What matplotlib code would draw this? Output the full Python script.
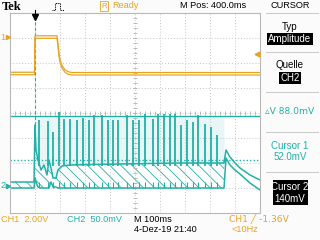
import matplotlib
matplotlib.use("Agg")
import matplotlib.pyplot as plt
import numpy as np
from matplotlib.patches import Rectangle

# --- data (time in ms, CH1 in V, CH2 in mV) ---
ch1_t = [-100, -2, 0, 88, 92, 96, 100, 108, 120, 132, 148, 900]
ch1_v = [-2.92, -2.92, 0.0, 0.0, -0.64, -1.44, -1.92, -2.4, -2.72, -2.88, -2.94, -2.94]

ch2_t = [-100, -4, 0, 4, 12, 24, 36, 48, 56, 64, 72, 84, 92, 108, 140, 340, 580, 756,
         764, 780, 800, 820, 860, 900]
ch2_hi = [8, 8, 122, 72, 52, 32, 42, 22, 52, 36, 16, 16, 32, 40, 42, 44, 46, 46,
          72, 58, 46, 36, 22, 12]
ch2_lo = [-4, -4, 16, 8, -2, -4, -4, -4, -4, 8, -2, -2, -4, -4, -4, -4, -4, -4,
          56, 42, 32, 24, 6, -8]

spike_t = [16, 52, 72, 96, 116, 140, 168, 192, 216, 236, 268, 292, 312, 332, 368, 392,
           416, 440, 472, 492, 516, 540, 560, 584, 608, 632, 652, 680, 704, 728]
spike_v = [132, 130, 108, 148, 134, 134, 132, 136, 132, 142, 142, 132, 132, 132, 142, 132,
           132, 144, 134, 144, 144, 144, 144, 122, 132, 128, 142, 124, 118, 102]

cursor1 = 52.0
cursor2 = 140.0
ch1_pos = 7.04   # divisions from bottom
ch2_pos = 1.08

TEAL = "#22b0a8"
ORANGE = "#e8a420"
PALE = "#e8f7f6"
FS = 6.6

def d1(v):
    return ch1_pos + np.asarray(v, float) / 2.0

def d2(v):
    return ch2_pos + np.asarray(v, float) / 50.0

plt.rcParams["font.family"] = ["Liberation Sans", "DejaVu Sans"]
plt.rcParams["hatch.linewidth"] = 0.6
plt.rcParams["hatch.color"] = TEAL

fig = plt.figure(figsize=(3.2, 2.4), dpi=100)
fig.patch.set_facecolor("#fbfbfb")

# --- graticule ---
ax = fig.add_axes([10 / 320, 27 / 240, 250 / 320, 200 / 240])
ax.set_xlim(-100, 900)
ax.set_ylim(0, 8)
ax.set_facecolor("white")
for s in ax.spines.values():
    s.set_color("#b8b8b8")
    s.set_linewidth(0.8)
ax.set_xticks(np.arange(-100, 901, 100))
ax.set_yticks(np.arange(0, 9, 1))
ax.tick_params(length=0, labelbottom=False, labelleft=False)
ax.grid(True, color="#c4c4c4", linestyle=(0, (1, 2)), linewidth=0.7)
ax.plot(np.arange(-100, 901, 20), np.full(51, 4.0), "|", color="#b0b0b0", ms=3, mew=0.6)
ax.plot(np.full(41, 400.0), np.arange(0, 8.01, 0.2), "_", color="#b0b0b0", ms=3, mew=0.6)

t2 = np.array(ch2_t)
hi = d2(ch2_hi)
lo = d2(ch2_lo)

# pale persistence behind the spikes
mask = (t2 >= 0) & (t2 <= 756)
ax.fill_between(t2, hi, d2(cursor2), where=mask, color=PALE, lw=0)

# hatched envelope
ax.fill_between(t2, lo, hi, where=(t2 <= 756), facecolor="none", edgecolor=TEAL,
                hatch="\\\\\\", lw=0)
ax.plot(t2, hi, color=TEAL, lw=1.1)
ax.plot(t2, lo, color=TEAL, lw=1.1)
ax.vlines(spike_t, d2(40), d2(spike_v), color=TEAL, lw=1.3)
ax.vlines(spike_t, d2(-4), d2(8), color=TEAL, lw=0.8)
ax.vlines(0, d2(122), 8, color=TEAL, lw=0.8, linestyles=(0, (3, 2)))

# cursors
ax.axhline(d2(cursor2), color=TEAL, lw=1.0)
ax.axhline(d2(cursor1), color=TEAL, lw=1.0, linestyle=(0, (1, 1.5)))

# CH1 envelope
ax.plot(ch1_t, d1(ch1_v) + 0.05, color=ORANGE, lw=0.9)
ax.plot(ch1_t, d1(ch1_v) - 0.05, color=ORANGE, lw=0.9)

# overlay in pixel coordinates for the screen furniture
bg = fig.add_axes([0, 0, 1, 1])
bg.set_xlim(0, 320)
bg.set_ylim(240, 0)
bg.axis("off")
bg.set_zorder(5)

# --- markers around the graticule ---
bg.plot(35, 17, "v", color="black", ms=4)
bg.plot([35, 35], [10, 14], color="black", lw=0.8)
bg.plot(257, 54, "<", color=ORANGE, ms=3.5)
bg.text(0.5, 37, "1", color=ORANGE, fontsize=FS, va="center")
bg.plot(8, 37, ">", color=ORANGE, ms=3)
bg.text(0.5, 186, "2", color=TEAL, fontsize=FS, va="center")
bg.plot(8, 186, ">", color=TEAL, ms=3)

# --- top bar ---
bg.text(2, 7, "Tek", family="Liberation Serif", fontweight="bold", fontsize=9, va="center")
bg.plot([52, 55, 55, 60, 60, 64], [10, 10, 3, 3, 10, 10], color="black", lw=0.7,
        linestyle=(0, (1, 0.8)))
bg.text(104, 6, "R", color=ORANGE, fontsize=5.5, va="center", ha="center",
        bbox=dict(boxstyle="square,pad=0.15", fc="none", ec=ORANGE, lw=0.6))
bg.text(112, 6, "Ready", color=ORANGE, fontsize=FS, va="center")
bg.text(180, 6, "M Pos: 400.0ms", fontsize=FS, va="center")

# --- right menu ---
for yy in [13, 52, 92, 132, 172]:
    bg.plot([266, 318], [yy, yy], color="#c8c8c8", lw=0.7)
bg.text(290, 6, "CURSOR", fontsize=FS, ha="center", va="center")
bg.text(290, 27, "Typ", fontsize=7, ha="center", va="center")
bg.text(290, 39, "Amplitude", fontsize=7, ha="center", va="center", color="white",
        bbox=dict(boxstyle="square,pad=0.1", fc="black", ec="none"))
bg.text(290, 65, "Quelle", fontsize=7, ha="center", va="center")
bg.text(290, 78, "CH2", fontsize=7, ha="center", va="center", color="white",
        bbox=dict(boxstyle="square,pad=0.1", fc="black", ec="none"))
bg.text(290, 112, "\u25b5V 88.0mV", fontsize=FS, ha="center", va="center", color=TEAL,
        family=["DejaVu Sans"])
bg.text(290, 146, "Cursor 1", fontsize=7, ha="center", va="center", color=TEAL)
bg.text(290, 157, "52.0mV", fontsize=7, ha="center", va="center", color=TEAL)
bg.add_patch(Rectangle((273, 180), 35, 25, fc="black", ec="none"))
bg.text(290, 187, "Cursor 2", fontsize=7, ha="center", va="center", color="white")
bg.text(290, 199, "140mV", fontsize=7, ha="center", va="center", color="white")

# --- bottom bar ---
bg.text(1, 219, "CH1  2.00V", fontsize=FS, va="center", color=ORANGE)
bg.text(67, 219, "CH2  50.0mV", fontsize=FS, va="center", color=TEAL)
bg.text(134, 219, "M 100ms", fontsize=FS, va="center")
bg.text(134, 230, "4-Dez-19 21:40", fontsize=FS, va="center")
bg.text(229, 219, "CH1 \u2571 -1.36V", fontsize=FS, va="center", color=ORANGE,
        family=["DejaVu Sans"])
bg.text(232, 230, "<10Hz", fontsize=FS, va="center", color=ORANGE)

fig.savefig("out.png", dpi=100, facecolor=fig.get_facecolor())
